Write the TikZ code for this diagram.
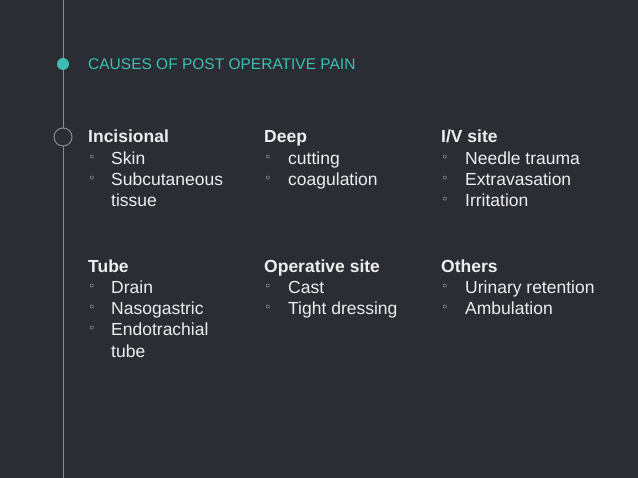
\documentclass[tikz,border=0pt]{standalone}
\usepackage{fontspec}
\setmainfont{Liberation Sans}
\newfontfamily\dvs{DejaVu Sans}
\definecolor{bg}{HTML}{2B2D35}
\definecolor{teal}{HTML}{3CBFB2}
\definecolor{txt}{HTML}{EEEEEE}
\definecolor{ln}{HTML}{8A8C93}
\tikzset{
 head/.style={anchor=west,text=txt,font=\fontsize{17.5}{20}\selectfont\bfseries,inner sep=0pt,text height=12.6pt,text depth=0pt,yshift=0pt},
 item/.style={anchor=west,text=txt,font=\fontsize{17.5}{20}\selectfont,inner sep=0pt,text height=12.6pt,text depth=0pt},
 bul/.style={anchor=center,text=txt,font=\dvs\fontsize{12}{14}\selectfont,inner sep=0pt},
}
\begin{document}
\begin{tikzpicture}[x=1pt,y=-1pt]
\fill[bg] (0,0) rectangle (638,478);
\useasboundingbox (0,0) rectangle (638,478);
\coordinate (top) at (63,0); \coordinate (bot) at (63,478);
\draw[ln,line width=1pt] (top) -- (bot);
\fill[teal] (63,64) circle (6);
\node[anchor=west,text=teal,font=\fontsize{15.5}{17}\selectfont,inner sep=0pt,text height=10.5pt,text depth=0pt] (title) at (88,64) {CAUSES OF POST OPERATIVE PAIN};
\filldraw[fill=bg,draw=ln,line width=1pt] (63,137) circle (9);
% row 1
\node[head] (h1) at (88,136) {Incisional};
\node[bul] (b11) at (92,158) {◦}; \node[item] (i11) at (111,158) {Skin};
\node[bul] (b12) at (92,179) {◦}; \node[item] (i12) at (111,179) {Subcutaneous};
\node[item] (i13) at (111,200) {tissue};
\node[head] (h2) at (264,136) {Deep};
\node[bul] (b21) at (268,158) {◦}; \node[item] (i21) at (288,158) {cutting};
\node[bul] (b22) at (268,179) {◦}; \node[item] (i22) at (288,179) {coagulation};
\node[head] (h3) at (441,136) {I/V site};
\node[bul] (b31) at (445,158) {◦}; \node[item] (i31) at (465,158) {Needle trauma};
\node[bul] (b32) at (445,179) {◦}; \node[item] (i32) at (465,179) {Extravasation};
\node[bul] (b33) at (445,200) {◦}; \node[item] (i33) at (465,200) {Irritation};
% row 2
\node[head] (h4) at (88,266) {Tube};
\node[bul] (b41) at (92,287) {◦}; \node[item] (i41) at (111,287) {Drain};
\node[bul] (b42) at (92,308) {◦}; \node[item] (i42) at (111,308) {Nasogastric};
\node[bul] (b43) at (92,329) {◦}; \node[item] (i43) at (111,329) {Endotrachial};
\node[item] (i44) at (111,351) {tube};
\node[head] (h5) at (264,266) {Operative site};
\node[bul] (b51) at (268,287) {◦}; \node[item] (i51) at (288,287) {Cast};
\node[bul] (b52) at (268,308) {◦}; \node[item] (i52) at (288,308) {Tight dressing};
\node[head] (h6) at (441,266) {Others};
\node[bul] (b61) at (445,287) {◦}; \node[item] (i61) at (465,287) {Urinary retention};
\node[bul] (b62) at (445,308) {◦}; \node[item] (i62) at (465,308) {Ambulation};
\end{tikzpicture}
\end{document}
